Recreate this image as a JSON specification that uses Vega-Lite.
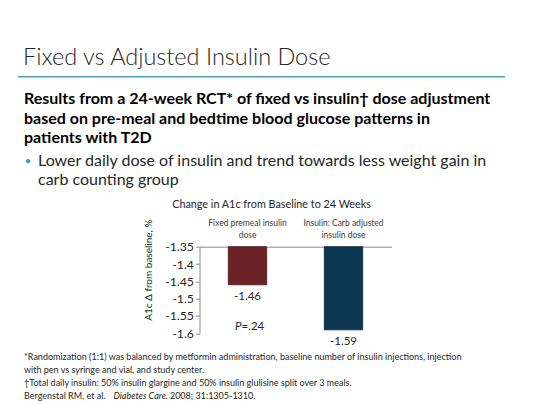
{
  "$schema": "https://vega.github.io/schema/vega-lite/v6.json",
  "width": 192,
  "height": 86.6,
  "autosize": {"type": "none"},
  "padding": {"left": 199.5, "top": 246.7, "right": 148.5, "bottom": 71.7},
  "data": {
    "values": [
      {"group": "Fixed premeal insulin dose", "change": -1.46},
      {"group": "Insulin: Carb adjusted insulin dose", "change": -1.59}
    ]
  },
  "layer": [
    {
      "mark": {"type": "bar", "strokeWidth": 0.8},
      "encoding": {
        "x": {
          "field": "group", "type": "nominal", "sort": null,
          "scale": {"paddingInner": 0.6, "paddingOuter": 0.3},
          "axis": {
            "orient": "top", "title": null, "labelAngle": 0,
            "labelExpr": "datum.value == 'Fixed premeal insulin dose' ? ['Fixed premeal insulin', 'dose'] : ['Insulin: Carb adjusted', 'insulin dose']",
            "labelFontSize": 8.5, "labelColor": "#404040", "labelLineHeight": 12,
            "labelBaseline": "alphabetic", "ticks": false, "tickSize": 0, "labelPadding": 21,
            "domainColor": "#8c8c8c"
          }
        },
        "y": {
          "field": "change", "type": "quantitative",
          "scale": {"domain": [-1.6, -1.35], "zero": false, "nice": false},
          "axis": {
            "values": [-1.35, -1.4, -1.45, -1.5, -1.55, -1.6],
            "format": "~g", "labelFontSize": 12.3, "labelColor": "#262626", "labelOverlap": false,
            "tickSize": 4, "labelPadding": 2,
            "domainColor": "#8c8c8c", "tickColor": "#8c8c8c", "grid": false,
            "title": "A1c Δ from baseline, %", "titleFontSize": 10, "titleFontWeight": "normal",
            "titleColor": "#262626", "titleX": -51, "titleY": 23, "titleAngle": 270,
            "titleAlign": "center", "titleBaseline": "middle"
          }
        },
        "y2": {"datum": -1.35},
        "color": {
          "field": "group", "type": "nominal", "legend": null,
          "scale": {"range": ["#6b2226", "#0c3552"]}
        },
        "stroke": {
          "field": "group", "type": "nominal", "legend": null,
          "scale": {"range": ["#4a1518", "#062338"]}
        }
      }
    },
    {
      "mark": {"type": "text", "fontSize": 11.5, "dy": 12.5, "baseline": "middle", "color": "#262626"},
      "encoding": {
        "x": {"field": "group", "type": "nominal", "sort": null},
        "y": {
          "field": "change", "type": "quantitative",
          "axis": {
            "values": [-1.35, -1.4, -1.45, -1.5, -1.55, -1.6],
            "format": "~g", "labelFontSize": 12.3, "labelColor": "#262626", "labelOverlap": false,
            "tickSize": 4, "labelPadding": 2,
            "domainColor": "#8c8c8c", "tickColor": "#8c8c8c", "grid": false,
            "title": "A1c Δ from baseline, %", "titleFontSize": 10, "titleFontWeight": "normal",
            "titleColor": "#262626", "titleX": -51, "titleY": 23, "titleAngle": 270,
            "titleAlign": "center", "titleBaseline": "middle"
          }
        },
        "text": {"field": "change", "type": "quantitative", "format": ".2f"}
      }
    },
    {
      "data": {"values": [{"note": "P"}]},
      "mark": {"type": "text", "fontSize": 11.5, "fontStyle": "italic", "align": "right", "baseline": "middle", "dx": -6, "color": "#262626"},
      "encoding": {
        "x": {"datum": "Fixed premeal insulin dose"},
        "y": {
          "datum": -1.581, "type": "quantitative",
          "axis": {
            "values": [-1.35, -1.4, -1.45, -1.5, -1.55, -1.6],
            "format": "~g", "labelFontSize": 12.3, "labelColor": "#262626", "labelOverlap": false,
            "tickSize": 4, "labelPadding": 2,
            "domainColor": "#8c8c8c", "tickColor": "#8c8c8c", "grid": false,
            "title": "A1c Δ from baseline, %", "titleFontSize": 10, "titleFontWeight": "normal",
            "titleColor": "#262626", "titleX": -51, "titleY": 23, "titleAngle": 270,
            "titleAlign": "center", "titleBaseline": "middle"
          }
        },
        "text": {"field": "note"}
      }
    },
    {
      "data": {"values": [{"note": "=.24"}]},
      "mark": {"type": "text", "fontSize": 11.5, "align": "left", "baseline": "middle", "dx": -6, "color": "#262626"},
      "encoding": {
        "x": {"datum": "Fixed premeal insulin dose"},
        "y": {
          "datum": -1.581, "type": "quantitative",
          "axis": {
            "values": [-1.35, -1.4, -1.45, -1.5, -1.55, -1.6],
            "format": "~g", "labelFontSize": 12.3, "labelColor": "#262626", "labelOverlap": false,
            "tickSize": 4, "labelPadding": 2,
            "domainColor": "#8c8c8c", "tickColor": "#8c8c8c", "grid": false,
            "title": "A1c Δ from baseline, %", "titleFontSize": 10, "titleFontWeight": "normal",
            "titleColor": "#262626", "titleX": -51, "titleY": 23, "titleAngle": 270,
            "titleAlign": "center", "titleBaseline": "middle"
          }
        },
        "text": {"field": "note"}
      }
    },
    {
      "data": {"values": [{}]},
      "mark": {"type": "text", "text": "Fixed vs Adjusted Insulin Dose", "fontSize": 23.5, "fontWeight": 300, "align": "left", "baseline": "alphabetic", "color": "#262626"},
      "encoding": {"x": {"value": -176.5}, "y": {"value": -182.2}}
    },
    {
      "data": {"values": [{}]},
      "mark": {"type": "rule", "color": "#4aa3b8", "strokeWidth": 1.5},
      "encoding": {"x": {"value": -181.5}, "x2": {"value": 305.5}, "y": {"value": -170}}
    },
    {
      "data": {"values": [{}]},
      "mark": {
        "type": "text", "fontSize": 16, "fontWeight": "bold", "align": "left", "baseline": "alphabetic", "lineHeight": 19.4, "color": "#000000",
        "text": ["Results from a 24-week RCT* of fixed vs insulin† dose adjustment", "based on pre-meal and bedtime blood glucose patterns in", "patients with T2D"]
      },
      "encoding": {"x": {"value": -175.5}, "y": {"value": -142.4}}
    },
    {
      "data": {"values": [{}]},
      "mark": {"type": "text", "text": "•", "fontSize": 12, "align": "center", "baseline": "alphabetic", "color": "#3ea0b8"},
      "encoding": {"x": {"value": -171.5}, "y": {"value": -81.5}}
    },
    {
      "data": {"values": [{}]},
      "mark": {
        "type": "text", "fontSize": 16, "align": "left", "baseline": "alphabetic", "lineHeight": 18.6, "color": "#262626",
        "text": ["Lower daily dose of insulin and trend towards less weight gain in", "carb counting group"]
      },
      "encoding": {"x": {"value": -161.5}, "y": {"value": -80.7}}
    },
    {
      "data": {"values": [{}]},
      "mark": {"type": "text", "text": "Change in A1c from Baseline to 24 Weeks", "fontSize": 10.8, "align": "center", "baseline": "middle", "color": "#262626"},
      "encoding": {"x": {"value": 72}, "y": {"value": -41.7}}
    },
    {
      "data": {"values": [{}]},
      "mark": {
        "type": "text", "fontSize": 9, "align": "left", "baseline": "middle", "lineHeight": 13, "color": "#262626",
        "text": ["*Randomization (1:1) was balanced by metformin administration, baseline number of insulin injections, injection", "with pen vs syringe and vial, and study center.", "†Total daily insulin: 50% insulin glargine and 50% insulin glulisine split over 3 meals."]
      },
      "encoding": {"x": {"value": -175.5}, "y": {"value": 110.3}}
    },
    {
      "data": {"values": [{}]},
      "mark": {"type": "text", "text": "Bergenstal RM, et al.", "fontSize": 9, "align": "left", "baseline": "middle", "color": "#262626"},
      "encoding": {"x": {"value": -175.5}, "y": {"value": 149.3}}
    },
    {
      "data": {"values": [{}]},
      "mark": {"type": "text", "text": "Diabetes Care", "fontStyle": "italic", "fontSize": 9, "align": "left", "baseline": "middle", "color": "#262626"},
      "encoding": {"x": {"value": -86}, "y": {"value": 149.3}}
    },
    {
      "data": {"values": [{}]},
      "mark": {"type": "text", "text": ". 2008; 31:1305-1310.", "fontSize": 9, "align": "left", "baseline": "middle", "color": "#262626"},
      "encoding": {"x": {"value": -34}, "y": {"value": 149.3}}
    }
  ],
  "config": {
    "font": "Lato",
    "view": {"stroke": null},
    "axis": {"grid": false},
    "locale": {"number": {"decimal": ".", "thousands": ",", "grouping": [3], "currency": ["$", ""], "minus": "-"}}
  }
}
